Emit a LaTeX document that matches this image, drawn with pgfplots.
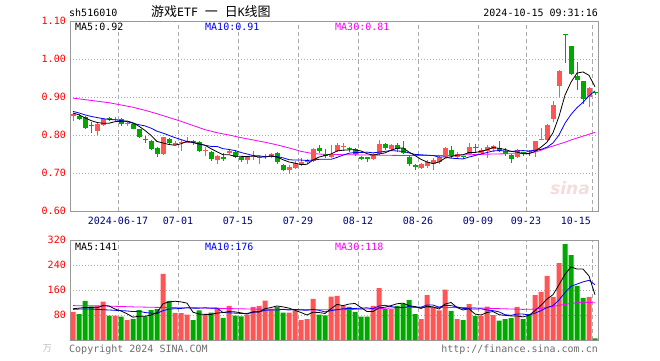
\documentclass[border=0pt]{standalone}
\usepackage{fontspec}
\setmainfont{DejaVu Sans Mono}
\newfontfamily\cjk{Noto Sans CJK SC}
\newfontfamily\sinafont{DejaVu Sans}
\usepackage{pgfplots}
\usepackage{pgfplotstable}
\pgfplotsset{compat=1.18}
\definecolor{cR}{RGB}{255,85,85}
\definecolor{cG}{RGB}{0,168,0}
\definecolor{navyc}{RGB}{0,0,128}
\definecolor{gridc}{RGB}{170,170,170}
\definecolor{framec}{RGB}{153,153,153}
\definecolor{txtgray}{RGB}{110,110,110}
\definecolor{mag}{RGB}{255,0,255}
\definecolor{wmark}{RGB}{243,222,222}
\definecolor{wangc}{RGB}{190,190,190}
\newcommand\tc[1]{{\fontsize{13}{13}\selectfont\cjk #1}}
\newcommand\tl[1]{{\fontsize{11.5}{13}\selectfont #1}}

% rising days (red)
\pgfplotstableread{
x O H L C V
0 0.850 0.859 0.838 0.855 90
4 0.811 0.833 0.801 0.829 109
5 0.826 0.844 0.824 0.841 123
7 0.839 0.848 0.834 0.842 78
9 0.828 0.834 0.824 0.831 64
15 0.750 0.796 0.748 0.794 212
17 0.775 0.783 0.773 0.778 87
18 0.778 0.787 0.759 0.782 86
19 0.780 0.794 0.778 0.783 81
22 0.757 0.769 0.746 0.760 82
24 0.733 0.747 0.723 0.745 103
26 0.752 0.761 0.749 0.759 109
29 0.733 0.744 0.725 0.742 81
30 0.741 0.758 0.735 0.745 106
31 0.739 0.747 0.723 0.743 109
32 0.741 0.751 0.737 0.744 126
33 0.746 0.753 0.739 0.749 100
36 0.709 0.721 0.697 0.716 88
37 0.714 0.732 0.711 0.727 95
38 0.722 0.739 0.719 0.728 64
39 0.728 0.736 0.723 0.732 67
40 0.732 0.765 0.730 0.763 132
43 0.743 0.775 0.740 0.751 139
44 0.758 0.778 0.756 0.774 141
45 0.7675 0.778 0.758 0.770 109
50 0.738 0.753 0.733 0.749 109
51 0.749 0.788 0.747 0.776 166
53 0.763 0.777 0.758 0.774 99
58 0.714 0.726 0.711 0.724 67
59 0.719 0.733 0.714 0.730 144
60 0.725 0.739 0.707 0.733 106
61 0.730 0.746 0.725 0.742 95
62 0.743 0.768 0.740 0.765 161
64 0.742 0.756 0.739 0.749 67
66 0.750 0.778 0.747 0.769 115
68 0.752 0.767 0.747 0.761 77
69 0.758 0.775 0.740 0.768 107
70 0.763 0.775 0.756 0.772 80
74 0.743 0.763 0.739 0.761 106
77 0.758 0.784 0.743 0.783 144
78 0.787 0.819 0.787 0.790 154
79 0.787 0.828 0.784 0.826 205
80 0.842 0.890 0.833 0.879 138
81 0.930 0.970 0.901 0.968 246
86 0.901 0.927 0.875 0.925 138
}\upT

% falling days (green)
\pgfplotstableread{
x O H L C V
1 0.851 0.854 0.840 0.841 83
2 0.847 0.850 0.815 0.818 125
3 0.8265 0.835 0.806 0.824 108
6 0.8435 0.847 0.838 0.841 78
8 0.841 0.844 0.825 0.829 75
10 0.828 0.831 0.815 0.817 68
11 0.815 0.817 0.792 0.796 96
12 0.7905 0.797 0.780 0.788 76
13 0.785 0.787 0.761 0.764 96
14 0.767 0.769 0.741 0.751 99
16 0.789 0.791 0.776 0.778 125
20 0.7845 0.787 0.774 0.782 64
21 0.782 0.784 0.756 0.759 95
23 0.756 0.758 0.732 0.736 88
25 0.741 0.752 0.732 0.738 71
27 0.756 0.760 0.740 0.743 78
28 0.743 0.746 0.730 0.735 76
34 0.753 0.754 0.725 0.728 106
35 0.721 0.723 0.704 0.709 88
41 0.767 0.774 0.753 0.758 81
42 0.749 0.763 0.740 0.746 79
46 0.766 0.768 0.754 0.763 106
47 0.763 0.767 0.746 0.749 90
48 0.743 0.746 0.733 0.736 75
49 0.741 0.742 0.728 0.738 75
52 0.776 0.779 0.761 0.765 99
54 0.774 0.778 0.754 0.763 109
55 0.765 0.783 0.749 0.752 116
56 0.743 0.746 0.718 0.723 128
57 0.720 0.723 0.707 0.717 83
63 0.761 0.770 0.740 0.745 93
65 0.744 0.746 0.737 0.741 64
67 0.768 0.777 0.754 0.765 77
71 0.767 0.783 0.754 0.758 62
72 0.758 0.765 0.746 0.749 67
73 0.747 0.751 0.726 0.737 70
75 0.755 0.756 0.746 0.752 67
76 0.757 0.760 0.746 0.754 83
82 1.065 1.065 0.989 1.062 307
83 1.035 1.035 0.958 0.960 272
84 0.956 0.991 0.918 0.945 173
85 0.942 0.942 0.881 0.895 135
87 0.9135 0.914 0.905 0.911 5
}\downT

% moving averages (price MA5, MA10; volume MA5, MA10)
\pgfplotstableread{
x m5 m10 v5 v10
0 0.858 0.862 100 98
1 0.853 0.858 102 99
2 0.845 0.853 104 99
3 0.838 0.849 104 99
4 0.833 0.846 103 98
5 0.831 0.843 110 97
6 0.831 0.841 109 96
7 0.835 0.840 99 95
8 0.836 0.838 93 94
9 0.837 0.835 84 93
10 0.832 0.831 73 91
11 0.823 0.827 76 92
12 0.812 0.824 76 88
13 0.799 0.818 80 86
14 0.783 0.810 87 85
15 0.779 0.805 116 94
16 0.775 0.799 122 99
17 0.773 0.793 124 100
18 0.777 0.788 122 101
19 0.783 0.783 118 103
20 0.781 0.780 89 102
21 0.777 0.776 83 102
22 0.773 0.773 82 103
23 0.764 0.770 82 102
24 0.756 0.770 86 102
25 0.748 0.764 88 88
26 0.748 0.762 91 87
27 0.744 0.759 90 86
28 0.744 0.754 87 85
29 0.743 0.750 83 85
30 0.745 0.746 90 89
31 0.742 0.745 90 90
32 0.742 0.743 100 95
33 0.745 0.744 104 96
34 0.742 0.743 109 96
35 0.735 0.740 106 98
36 0.729 0.735 102 96
37 0.726 0.734 95 98
38 0.722 0.734 88 96
39 0.723 0.733 80 95
40 0.734 0.734 89 98
41 0.742 0.736 88 95
42 0.746 0.736 85 90
43 0.750 0.736 100 94
44 0.758 0.741 114 97
45 0.760 0.747 110 100
46 0.761 0.752 115 101
47 0.761 0.754 117 101
48 0.758 0.754 104 102
49 0.751 0.755 91 103
50 0.747 0.753 91 100
51 0.750 0.755 103 109
52 0.753 0.757 105 111
53 0.760 0.759 110 107
54 0.765 0.758 116 104
55 0.766 0.757 118 104
56 0.755 0.753 110 107
57 0.746 0.749 107 106
58 0.736 0.748 101 105
59 0.729 0.747 108 112
60 0.725 0.746 106 112
61 0.729 0.742 99 105
62 0.739 0.742 115 111
63 0.743 0.739 120 110
64 0.747 0.738 104 106
65 0.748 0.737 96 101
66 0.754 0.742 100 100
67 0.754 0.746 83 99
68 0.757 0.750 80 100
69 0.761 0.754 88 96
70 0.767 0.758 91 94
71 0.765 0.759 81 90
72 0.762 0.758 79 81
73 0.757 0.757 77 79
74 0.755 0.758 77 83
75 0.751 0.759 74 83
76 0.751 0.758 79 80
77 0.757 0.760 94 86
78 0.768 0.762 111 94
79 0.781 0.768 131 104
80 0.806 0.779 145 110
81 0.849 0.800 177 128
82 0.905 0.831 210 152
83 0.939 0.854 234 172
84 0.963 0.872 227 179
85 0.966 0.886 227 186
86 0.957 0.903 205 191
87 0.927 0.916 145 177
}\maT

\pgfplotsset{kstyle/.style={
  scale only axis, width=528pt, anchor=south west,
  xmin=-0.5, xmax=87.5,
  axis line style={framec},
  major tick length=0pt,
  xtick={7.5,17.5,27.5,37.5,47.5,57.5,67.5,75.5,86.5},
  xmajorgrids, ymajorgrids,
  x grid style={gridc, dash pattern=on 4pt off 3pt},
  y grid style={gridc, dash pattern=on 1pt off 2pt},
  tick label style={font=\fontsize{10}{10}\selectfont},
  yticklabel style={text=red, anchor=east, inner sep=0pt, xshift=-4pt},
}}

\begin{document}
\begin{tikzpicture}
\useasboundingbox (0pt,0pt) rectangle (660pt,360pt);
\fill[white] (0pt,0pt) rectangle (660pt,360pt);

% watermark
\node[text=wmark, font={\sinafont\fontsize{17}{17}\selectfont\bfseries\itshape}] at (570pt,172pt) {sina};

% header
\node[anchor=base west, inner sep=0pt, font=\fontsize{10}{10}\selectfont] at (69pt,344pt) {sh516010};
\node[anchor=base west, inner sep=0pt] at (151pt,344pt) {\tc{游戏}\tl{ETF\ }\tc{一}\tl{\ }\tc{日}\tl{K}\tc{线图}};
\node[anchor=base east, inner sep=0pt, font=\fontsize{10}{10}\selectfont] at (598pt,344pt) {2024-10-15 09:31:16};

% price panel
\begin{axis}[kstyle, at={(70pt,149pt)}, height=190pt,
  ymin=0.6, ymax=1.1,
  ytick={0.6,0.7,0.8,0.9,1.0,1.1},
  yticklabels={0.60,0.70,0.80,0.90,1.00,1.10},
  xticklabels={2024-06-17,07-01,07-15,07-29,08-12,08-26,09-09,09-23,\llap{10-15\hspace{1pt}}},
  xticklabel style={text=navyc, anchor=north, inner sep=0pt, yshift=-6pt},
]
\addplot[draw=mag, line width=0.8pt] coordinates {(0,0.897)(2,0.893)(4,0.889)(6,0.885)(8,0.879)(10,0.873)(12,0.865)(14,0.856)(16,0.846)(18,0.836)(20,0.825)(22,0.814)(24,0.806)(26,0.800)(28,0.793)(30,0.787)(32,0.781)(34,0.774)(36,0.766)(38,0.757)(40,0.751)(42,0.749)(46,0.748)(50,0.747)(56,0.746)(62,0.746)(66,0.748)(70,0.750)(74,0.751)(76,0.752)(77,0.755)(78,0.760)(79,0.766)(80,0.771)(81,0.776)(82,0.781)(83,0.787)(84,0.792)(85,0.797)(86,0.802)(87,0.807)};
\addplot[draw=cR, line width=1pt, quiver={u=0, v=\thisrow{H}-\thisrow{L}}] table[x=x, y=L] {\upT};
\addplot[draw=cR, line width=5pt, line cap=butt, quiver={u=0, v=\thisrow{C}-\thisrow{O}}] table[x=x, y=O] {\upT};
\addplot[draw=cG, line width=1pt, quiver={u=0, v=\thisrow{H}-\thisrow{L}}] table[x=x, y=L] {\downT};
\addplot[draw=cG, line width=5pt, line cap=butt, quiver={u=0, v=\thisrow{C}-\thisrow{O}}] table[x=x, y=O] {\downT};
\addplot[draw=blue, line width=0.8pt] table[x=x, y=m10] {\maT};
\addplot[draw=black, line width=0.8pt] table[x=x, y=m5] {\maT};
\end{axis}

\node[anchor=base west, inner sep=0pt, font=\fontsize{10}{10}\selectfont, text=black] at (75pt,330pt) {MA5:0.92};
\node[anchor=base west, inner sep=0pt, font=\fontsize{10}{10}\selectfont, text=blue] at (205pt,330pt) {MA10:0.91};
\node[anchor=base west, inner sep=0pt, font=\fontsize{10}{10}\selectfont, text=mag] at (335pt,330pt) {MA30:0.81};

% volume panel
\begin{axis}[kstyle, at={(70pt,20pt)}, height=100pt,
  ymin=0, ymax=320,
  ytick={80,160,240,320},
  yticklabels={80,160,240,320},
  xticklabels={},
]
\addplot[ybar, bar width=5pt, bar shift=0pt, fill=cR, draw=none] table[x=x, y=V] {\upT};
\addplot[ybar, bar width=5pt, bar shift=0pt, fill=cG, draw=none] table[x=x, y=V] {\downT};
\addplot[draw=mag, line width=0.8pt] coordinates {(0,110)(5,109)(10,106)(15,104)(20,103)(25,101)(30,99)(35,98)(40,97)(45,97)(50,100)(55,104)(60,104)(65,104)(70,101)(75,98)(77,99)(79,104)(81,111)(83,117)(85,121)(87,119)};
\addplot[draw=blue, line width=0.8pt] table[x=x, y=v10] {\maT};
\addplot[draw=black, line width=0.8pt] table[x=x, y=v5] {\maT};
\end{axis}

\node[anchor=base west, inner sep=0pt, font=\fontsize{10}{10}\selectfont, text=black] at (75pt,110pt) {MA5:141};
\node[anchor=base west, inner sep=0pt, font=\fontsize{10}{10}\selectfont, text=blue] at (205pt,110pt) {MA10:176};
\node[anchor=base west, inner sep=0pt, font=\fontsize{10}{10}\selectfont, text=mag] at (335pt,110pt) {MA30:118};

% footer
\node[anchor=base west, inner sep=0pt, font=\fontsize{10}{10}\selectfont, text=txtgray] at (69pt,8pt) {Copyright 2024 SINA.COM};
\node[anchor=base east, inner sep=0pt, font=\fontsize{10}{10}\selectfont, text=txtgray] at (598pt,8pt) {http://finance.sina.com.cn};
\node[anchor=base east, inner sep=0pt, text=wangc] at (52pt,9pt) {\fontsize{9}{9}\selectfont\cjk 万};
\end{tikzpicture}
\end{document}
